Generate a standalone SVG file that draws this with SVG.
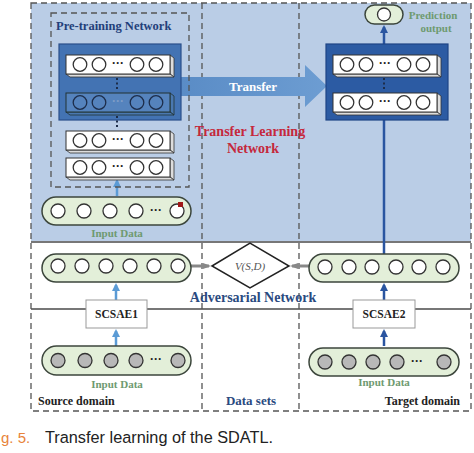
<svg xmlns="http://www.w3.org/2000/svg" width="474" height="453" viewBox="0 0 474 453">
<defs>
<style>
.lbl{font-family:"Liberation Serif","DejaVu Serif",serif;font-weight:bold}
.pill{fill:#e3efd9;stroke:#3c463c;stroke-width:1.5}
.c{fill:#fff;stroke:#333;stroke-width:1.3}
.cg{fill:#b8b8b8;stroke:#333;stroke-width:1.3}
.dash{fill:none;stroke:#555;stroke-width:1.3;stroke-dasharray:6,4}
.lay{fill:#fff;stroke:#333;stroke-width:1}
.side{fill:#ddd;stroke:#333;stroke-width:0.8}
.dots{font-family:"Liberation Sans",sans-serif;font-weight:bold;font-size:12px;fill:#222}
.green{fill:#6e9a70;font-size:11px}
</style>
<marker id="ab" markerWidth="8" markerHeight="8" refX="6" refY="4" orient="auto" markerUnits="userSpaceOnUse">
<path d="M0,0 L8,4 L0,8 Z" fill="#5b9bd5"/>
</marker>
<marker id="adb" markerWidth="8" markerHeight="8" refX="6" refY="4" orient="auto" markerUnits="userSpaceOnUse">
<path d="M0,0 L8,4 L0,8 Z" fill="#2a55a0"/>
</marker>
<marker id="ag" markerWidth="8" markerHeight="8" refX="6" refY="4" orient="auto" markerUnits="userSpaceOnUse">
<path d="M0,1 L8,4 L0,7 Z" fill="#888"/>
</marker>
<linearGradient id="tg" x1="0" x2="1" y1="0" y2="0">
<stop offset="0" stop-color="#5a8cc6"/>
<stop offset="1" stop-color="#6d9dd2"/>
</linearGradient>
<g id="layer">
<polygon class="side" points="104,0 108,3 108,22 104,19"/>
<polygon class="side" points="0,19 104,19 108,22 4,22"/>
<rect class="lay" x="0" y="0" width="104" height="19"/>
<circle class="c" cx="14" cy="9.5" r="6.8"/>
<circle class="c" cx="33" cy="9.5" r="6.8"/>
<circle class="c" cx="71" cy="9.5" r="6.8"/>
<circle class="c" cx="90" cy="9.5" r="6.8"/>
<text class="dots" x="52" y="12" text-anchor="middle">···</text>
</g>
</defs>

<!-- background -->
<rect x="0" y="0" width="474" height="453" fill="#fff"/>
<rect x="31" y="3" width="440" height="239" fill="#bacde6"/>
<line x1="31" y1="242" x2="471" y2="242" stroke="#777" stroke-width="2"/>
<line x1="31" y1="309" x2="471" y2="309" stroke="#777" stroke-width="2"/>
<rect class="dash" x="31" y="3" width="440" height="408"/>
<line class="dash" x1="202" y1="3" x2="202" y2="411"/>
<line class="dash" x1="299" y1="3" x2="299" y2="411"/>

<!-- connectors -->
<g id="connectors">
<line x1="117" y1="196" x2="117" y2="181" stroke="#5b9bd5" stroke-width="2.5" marker-end="url(#ab)"/>
<line x1="116" y1="300" x2="116" y2="285" stroke="#5b9bd5" stroke-width="2.5" marker-end="url(#ab)"/>
<line x1="116" y1="346" x2="116" y2="331" stroke="#5b9bd5" stroke-width="2.5" marker-end="url(#ab)"/>
<line x1="384" y1="254" x2="384" y2="27" stroke="#2a55a0" stroke-width="2.5" marker-end="url(#adb)"/>
<line x1="384" y1="300" x2="384" y2="285" stroke="#2a55a0" stroke-width="2.5" marker-end="url(#adb)"/>
<line x1="384" y1="346" x2="384" y2="331" stroke="#2a55a0" stroke-width="2.5" marker-end="url(#adb)"/>
<line x1="191" y1="266" x2="209" y2="266" stroke="#888" stroke-width="3" marker-end="url(#ag)"/>
<line x1="309" y1="266" x2="292" y2="266" stroke="#888" stroke-width="3" marker-end="url(#ag)"/>
<polygon id="transfer-arrow" points="181,77 305,77 305,65 327,86 305,107 305,96 181,96" fill="url(#tg)"/>
<text class="lbl" x="253" y="91" text-anchor="middle" font-size="13" fill="#fff" font-weight="normal">Transfer</text>
</g>

<!-- pre-training network -->
<g id="pretraining">
<rect class="dash" x="51" y="13" width="138" height="174"/>
<text class="lbl" x="56" y="30" font-size="12.5" fill="#233f7a">Pre-training Network</text>
<rect x="59" y="44" width="122" height="76" fill="#4373b3" stroke="#2a4f8a" stroke-width="1.2"/>
<use href="#layer" x="66" y="55"/>
<g>
<polygon points="170,93 174,96 174,115 170,112" fill="#4a78b0" stroke="#233" stroke-width="0.8"/>
<polygon points="66,112 170,112 174,115 70,115" fill="#4a78b0" stroke="#233" stroke-width="0.8"/>
<rect x="66" y="93" width="104" height="19" fill="#5583bd" stroke="#233" stroke-width="1"/>
<circle cx="80" cy="102.5" r="6.8" fill="#5583bd" stroke="#1d2d4a" stroke-width="1.3"/>
<circle cx="99" cy="102.5" r="6.8" fill="#5583bd" stroke="#1d2d4a" stroke-width="1.3"/>
<circle cx="137" cy="102.5" r="6.8" fill="#5583bd" stroke="#1d2d4a" stroke-width="1.3"/>
<circle cx="156" cy="102.5" r="6.8" fill="#5583bd" stroke="#1d2d4a" stroke-width="1.3"/>
<text class="dots" x="118" y="105" text-anchor="middle" style="fill:#7d9cc6">···</text>
</g>
<line x1="117" y1="78" x2="117" y2="91" stroke="#1d2d4a" stroke-width="2" stroke-dasharray="2,2.5"/>
<line x1="117" y1="116" x2="117" y2="129" stroke="#1d2d4a" stroke-width="2" stroke-dasharray="2,2.5"/>
<use href="#layer" x="66" y="131"/>
<use href="#layer" x="66" y="158"/>
</g>

<!-- source input data (top) -->
<g id="src-input-top">
<rect class="pill" x="42" y="197" width="149" height="28" rx="14"/>
<circle class="c" cx="58" cy="211" r="7"/>
<circle class="c" cx="84" cy="211" r="7"/>
<circle class="c" cx="110" cy="211" r="7"/>
<circle class="c" cx="136" cy="211" r="7"/>
<text class="dots" x="156" y="214" text-anchor="middle">···</text>
<circle class="c" cx="177" cy="211" r="7"/>
<rect x="178" y="202" width="5" height="5" fill="#a01818"/>
<text class="lbl green" x="117" y="237" text-anchor="middle">Input Data</text>
</g>

<!-- transfer learning label -->
<g id="tl-label">
<text class="lbl" x="250" y="136" text-anchor="middle" font-size="14" fill="#c5283c">Transfer Learning</text>
<text class="lbl" x="253" y="153" text-anchor="middle" font-size="14" fill="#c5283c">Network</text>
</g>

<!-- target network -->
<g id="target-network">
<rect x="326" y="44" width="122" height="76" fill="#2c5ba3" stroke="#1f4585" stroke-width="1.2"/>
<use href="#layer" x="333" y="55"/>
<use href="#layer" x="333" y="93"/>
<line x1="384" y1="78" x2="384" y2="91" stroke="#1d2d4a" stroke-width="2" stroke-dasharray="2,2.5"/>
</g>

<!-- prediction output -->
<g id="prediction">
<rect class="pill" x="365" y="5" width="38" height="19" rx="9.5"/>
<circle class="c" cx="384" cy="14.5" r="6.5"/>
<text class="lbl green" x="433" y="19" text-anchor="middle">Prediction</text>
<text class="lbl green" x="436" y="32" text-anchor="middle">output</text>
</g>

<!-- adversarial row -->
<g id="src-feature">
<rect class="pill" x="42" y="254" width="149" height="28" rx="14"/>
<circle class="c" cx="58" cy="266" r="7"/>
<circle class="c" cx="82" cy="266" r="7"/>
<circle class="c" cx="106" cy="266" r="7"/>
<circle class="c" cx="130" cy="266" r="7"/>
<circle class="c" cx="154" cy="266" r="7"/>
<circle class="c" cx="178" cy="266" r="7"/>
</g>
<g id="discriminator">
<polygon points="212,266 250,243 289,266 250,288" fill="#fff" stroke="#222" stroke-width="1.5"/>
<text x="250" y="270" text-anchor="middle" font-family="Liberation Serif,serif" font-style="italic" font-size="11" fill="#555">V(S,D)</text>
</g>
<g id="tgt-feature">
<rect class="pill" x="309" y="254" width="150" height="28" rx="14"/>
<circle class="c" cx="325" cy="267" r="7"/>
<circle class="c" cx="349" cy="267" r="7"/>
<circle class="c" cx="372" cy="267" r="7"/>
<circle class="c" cx="396" cy="267" r="7"/>
<circle class="c" cx="419" cy="267" r="7"/>
<circle class="c" cx="443" cy="267" r="7"/>
</g>
<text class="lbl" x="253" y="302" text-anchor="middle" font-size="14" fill="#2a4a80">Adversarial Network</text>

<!-- SCSAE boxes -->
<g id="scsae1">
<rect x="86" y="300" width="61" height="28" fill="#fff" stroke="#999" stroke-width="1"/>
<text class="lbl" x="116.5" y="318" text-anchor="middle" font-size="11.5" fill="#222">SCSAE1</text>
</g>
<g id="scsae2">
<rect x="353" y="300" width="62" height="28" fill="#fff" stroke="#999" stroke-width="1"/>
<text class="lbl" x="384" y="318" text-anchor="middle" font-size="11.5" fill="#222">SCSAE2</text>
</g>

<!-- bottom inputs -->
<g id="src-input">
<rect class="pill" x="42" y="346" width="149" height="29" rx="14.5"/>
<circle class="cg" cx="58" cy="360.5" r="7"/>
<circle class="cg" cx="85" cy="360.5" r="7"/>
<circle class="cg" cx="111" cy="360.5" r="7"/>
<circle class="cg" cx="136" cy="360.5" r="7"/>
<text class="dots" x="156" y="363" text-anchor="middle">···</text>
<circle class="cg" cx="178" cy="360.5" r="7"/>
<text class="lbl green" x="117" y="388" text-anchor="middle">Input Data</text>
</g>
<g id="tgt-input">
<rect class="pill" x="309" y="348" width="150" height="28" rx="14"/>
<circle class="cg" cx="325" cy="362" r="7"/>
<circle class="cg" cx="349" cy="362" r="7"/>
<circle class="cg" cx="373" cy="362" r="7"/>
<circle class="cg" cx="397" cy="362" r="7"/>
<text class="dots" x="417" y="365" text-anchor="middle">···</text>
<circle class="cg" cx="444" cy="362" r="7"/>
<text class="lbl green" x="384" y="386" text-anchor="middle">Input Data</text>
</g>

<text class="lbl" x="38" y="405" font-size="12" fill="#222">Source domain</text>
<text class="lbl" x="251" y="405" text-anchor="middle" font-size="13" fill="#2a4a80">Data sets</text>
<text class="lbl" x="460" y="405" text-anchor="end" font-size="12" fill="#222">Target domain</text>

<!-- caption -->
<text x="1" y="443" font-family="Liberation Sans,Arial,sans-serif" font-size="15" fill="#e8843a">g. 5.</text>
<text x="45" y="443" font-family="Liberation Sans,Arial,sans-serif" font-size="16.3" fill="#222">Transfer learning of the SDATL.</text>
</svg>
